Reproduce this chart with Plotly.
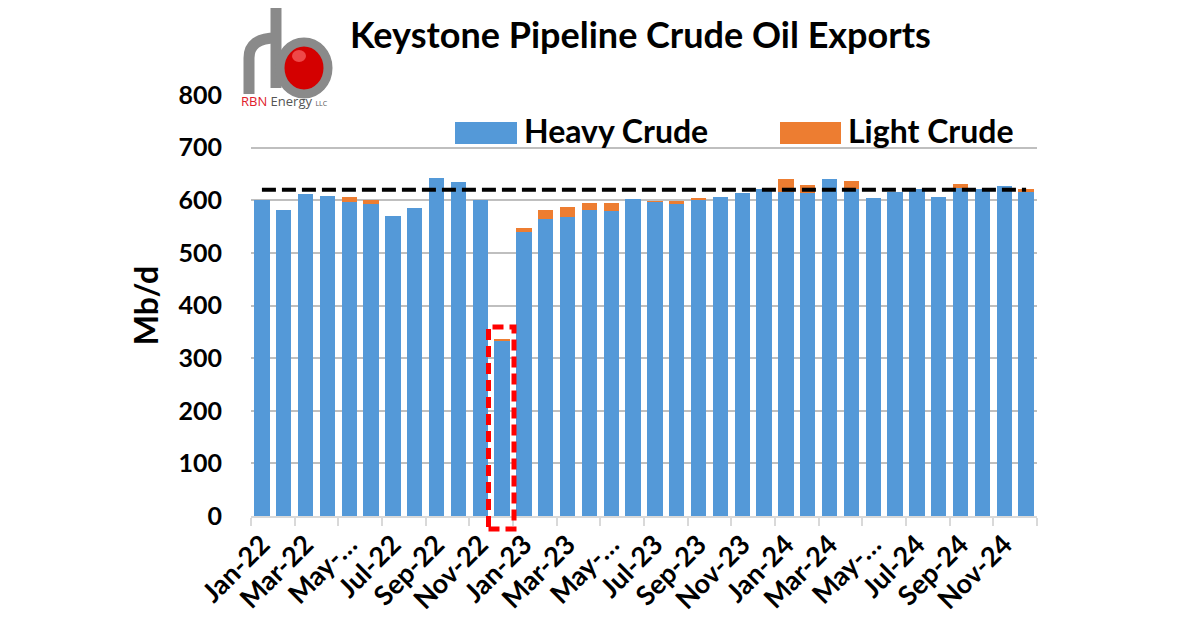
import plotly.graph_objects as go

months = ["Jan-22","Feb-22","Mar-22","Apr-22","May-22","Jun-22","Jul-22","Aug-22","Sep-22","Oct-22","Nov-22","Dec-22",
          "Jan-23","Feb-23","Mar-23","Apr-23","May-23","Jun-23","Jul-23","Aug-23","Sep-23","Oct-23","Nov-23","Dec-23",
          "Jan-24","Feb-24","Mar-24","Apr-24","May-24","Jun-24","Jul-24","Aug-24","Sep-24","Oct-24","Nov-24","Dec-24"]
tick_labels = ["Jan-22","Mar-22","May-…","Jul-22","Sep-22","Nov-22","Jan-23","Mar-23","May-…","Jul-23","Sep-23","Nov-23",
               "Jan-24","Mar-24","May-…","Jul-24","Sep-24","Nov-24"]
heavy = [600,582,611,608,597,592,570,585,642,634,600,333,
         540,565,568,582,580,603,597,593,601,607,614,622,
         616,613,641,621,605,616,621,607,624,621,627,615]
light = [0,0,0,0,10,9,0,0,0,0,0,2,
         8,17,20,13,14,0,1,5,3,0,0,0,
         24,16,0,15,0,0,0,0,6,0,0,6]
capacity = [620]*36
series_names = ["Heavy Crude", "Light Crude"]
y_ticks = [0,100,200,300,400,500,600,700,800]

BLUE = "#5499D8"
ORANGE = "#ED7D31"
FONT = "Lato"

x = list(range(len(months)))
fig = go.Figure()
fig.add_trace(go.Bar(x=x, y=heavy, name=series_names[0], marker_color=BLUE, marker_line_width=0,
                     hovertext=months, showlegend=False))
fig.add_trace(go.Bar(x=x, y=light, name=series_names[1], marker_color=ORANGE, marker_line_width=0,
                     hovertext=months, showlegend=False))
fig.add_trace(go.Scatter(x=x, y=capacity, mode="lines", line=dict(color="black", width=4, dash="14px,6px"),
                         showlegend=False, hoverinfo="skip"))

fig.update_layout(
    width=1200, height=630, barmode="stack", bargap=0.3,
    plot_bgcolor="white", paper_bgcolor="white",
    margin=dict(l=251, r=163, t=95, b=114),
    font=dict(family=FONT, color="black", weight="bold"),
    xaxis=dict(range=[-0.5, 35.5], tickvals=x[::2], ticktext=tick_labels, tickangle=-45,
               tickfont=dict(size=27, family=FONT, weight="bold"), ticks="", showgrid=False,
               showline=True, linecolor="#d9d9d9", linewidth=2, zeroline=False,
               minor=dict(tickvals=[i - 0.5 for i in range(0, 37, 2)], ticks="outside", ticklen=8,
                          tickcolor="#d9d9d9", tickwidth=2, showgrid=False)),
    yaxis=dict(range=[0, 800], tickvals=y_ticks, showgrid=True, gridcolor="#bfbfbf", gridwidth=2,
               zeroline=False, tickfont=dict(size=25, family=FONT, weight="bold"), ticks="",
               ticklabelstandoff=28,
               title=dict(text="Mb/d", font=dict(size=32, family=FONT, weight="bold"), standoff=10)),
)

def px_x(v):
    return (v - 251) / 786
def px_y(v):
    return (516 - v) / 421

# Title
fig.add_annotation(text="Keystone Pipeline Crude Oil Exports", xref="paper", yref="paper",
                   x=px_x(640), y=px_y(34), xanchor="center", yanchor="middle",
                   showarrow=False, font=dict(size=36, family=FONT, weight="bold"))

# Legend (custom)
fig.add_shape(type="rect", xref="paper", yref="paper", x0=px_x(455), x1=px_x(517), y0=px_y(144), y1=px_y(122),
              fillcolor=BLUE, line_width=0)
fig.add_annotation(text=series_names[0], xref="paper", yref="paper", x=px_x(522), y=px_y(130),
                   xanchor="left", yanchor="middle", showarrow=False, font=dict(size=32, family=FONT, weight="bold"))
fig.add_shape(type="rect", xref="paper", yref="paper", x0=px_x(780), x1=px_x(841), y0=px_y(144), y1=px_y(122),
              fillcolor=ORANGE, line_width=0)
fig.add_annotation(text=series_names[1], xref="paper", yref="paper", x=px_x(846), y=px_y(130),
                   xanchor="left", yanchor="middle", showarrow=False, font=dict(size=32, family=FONT, weight="bold"))

# Red dashed highlight around Dec-22
fig.add_shape(type="rect", xref="paper", yref="paper", x0=px_x(488.5), x1=px_x(514), y0=px_y(529), y1=px_y(327),
              line=dict(color="#ff0000", width=5, dash="11px,6px"), fillcolor="rgba(0,0,0,0)", layer="above")

# RBN logo (approximate)
GRAY = "#8a8a8a"
fig.add_shape(type="path", xref="paper", yref="paper",
              path=f"M {px_x(249)},{px_y(94)} L {px_x(249)},{px_y(58)} Q {px_x(249)},{px_y(38)} {px_x(276)},{px_y(38)}",
              line=dict(color=GRAY, width=11))
fig.add_shape(type="line", xref="paper", yref="paper", x0=px_x(276), x1=px_x(276), y0=px_y(8), y1=px_y(88),
              line=dict(color=GRAY, width=11))
fig.add_shape(type="circle", xref="paper", yref="paper", x0=px_x(280), x1=px_x(328), y0=px_y(94), y1=px_y(42),
              line=dict(color=GRAY, width=9), fillcolor="#d40000")
fig.add_shape(type="circle", xref="paper", yref="paper", x0=px_x(292), x1=px_x(306), y0=px_y(62), y1=px_y(50),
              line_width=0, fillcolor="rgba(255,120,120,0.6)")
fig.add_annotation(text="<span style='color:#e0202a'>RBN</span> <span style='color:#555'>Energy</span> <span style='color:#555;font-size:7px'>LLC</span>",
                   xref="paper", yref="paper", x=px_x(239), y=px_y(101), xanchor="left", yanchor="middle",
                   showarrow=False, font=dict(size=13, family="Open Sans", weight="normal"))

fig.write_html("out.html")
